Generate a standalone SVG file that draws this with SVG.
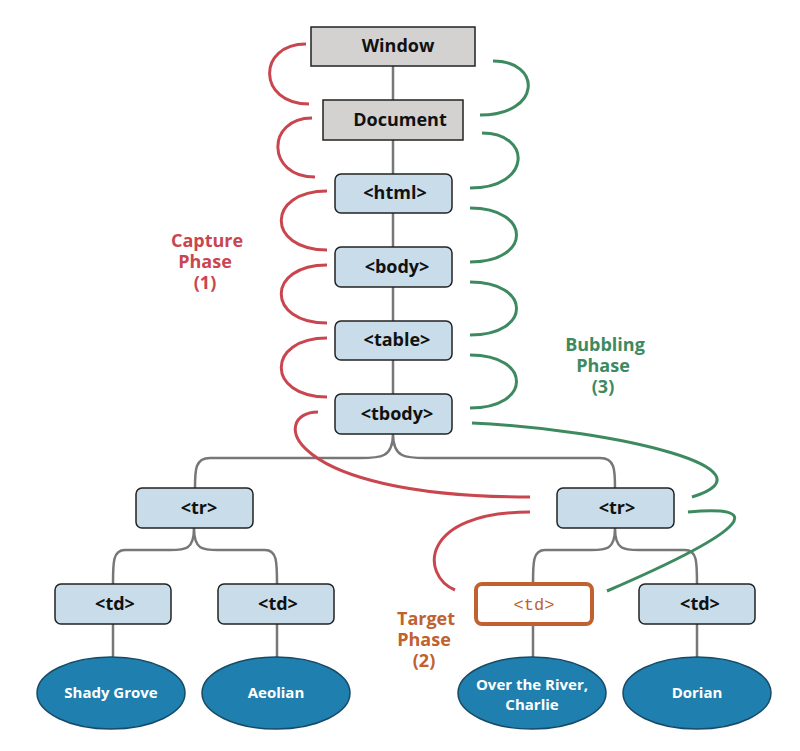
<svg xmlns="http://www.w3.org/2000/svg" width="800" height="751" viewBox="0 0 800 751">
<style>
.g{fill:#d3d2d1;stroke:#222;stroke-width:1.5}
.b{fill:#c9dcea;stroke:#222;stroke-width:1.5}
.t{font-family:"Open Sans",sans-serif;font-weight:bold;font-size:18px;fill:#111;text-anchor:middle}
.e{fill:#1f7fae;stroke:#174a66;stroke-width:1.5}
.et{font-family:"Open Sans",sans-serif;font-weight:bold;font-size:15px;fill:#fff;text-anchor:middle}
.c{fill:none;stroke:#777;stroke-width:2.5}
.r{fill:none;stroke:#c9464f;stroke-width:3}
.gr{fill:none;stroke:#3d8a60;stroke-width:3}
.lab{font-family:"Open Sans",sans-serif;font-weight:bold;font-size:18px;text-anchor:middle}
</style>
<g id="connectors">
<path class="c" d="M393,66V100M393,140V174M393,213V247M393,287V321M393,360V394"/>
<path class="c" d="M393,434C393,458 380,458 360,458H210C195,458 195,470 195,488M393,434C393,458 406,458 426,458H600C615,458 615,470 615,488"/>
<path class="c" d="M194,528C194,550 185,550 170,550H125C113,550 113,562 113,584M194,528C194,550 203,550 218,550H265C277,550 277,562 277,584"/>
<path class="c" d="M615,528C615,550 606,550 591,550H545C533,550 533,562 533,584M615,528C615,550 624,550 639,550H685C697,550 697,562 697,584"/>
<path class="c" d="M113,624V657M277,624V657M533,624V657M697,624V657"/>
<path class="r" d="M306,44C257,44 257,104 309,104M312,118C266,118 266,177 315,177M327,191C266,191 266,250 327,250M327,265C266,265 266,323 327,323M327,338C266,338 266,397 327,397M318,412C270,412 280,497 530,497M530,512C420,512 420,575 455,590"/>
<path class="gr" d="M493,61C542,61 542,115 480,115M482,133C532,133 532,188 470,188M470,208C532,208 532,262 470,262M470,282C532,282 532,335 470,335M470,355C532,355 532,408 470,408M472,423C620,430 780,470 692,497M688,512C760,505 760,525 607,591"/>
</g>
<g id="window"><rect class="g" x="311" y="27" width="164" height="39"/><text class="t" x="398" y="52">Window</text></g>
<g id="document"><rect class="g" x="323" y="100" width="140" height="40"/><text class="t" x="400" y="126">Document</text></g>
<g id="html"><rect class="b" x="335" y="174" width="117" height="39" rx="6"/><text class="t" x="395" y="199">&lt;html&gt;</text></g>
<g id="body"><rect class="b" x="335" y="247" width="117" height="40" rx="6"/><text class="t" x="397" y="273">&lt;body&gt;</text></g>
<g id="table"><rect class="b" x="335" y="321" width="117" height="39" rx="6"/><text class="t" x="397" y="346">&lt;table&gt;</text></g>
<g id="tbody"><rect class="b" x="335" y="394" width="117" height="40" rx="6"/><text class="t" x="397" y="420">&lt;tbody&gt;</text></g>
<g id="tr1"><rect class="b" x="136" y="488" width="117" height="40" rx="6"/><text class="t" x="199" y="514">&lt;tr&gt;</text></g>
<g id="tr2"><rect class="b" x="557" y="488" width="117" height="40" rx="6"/><text class="t" x="617" y="514">&lt;tr&gt;</text></g>
<g id="td1"><rect class="b" x="55" y="584" width="116" height="40" rx="6"/><text class="t" x="115" y="610">&lt;td&gt;</text></g>
<g id="td2"><rect class="b" x="218" y="584" width="116" height="40" rx="6"/><text class="t" x="278" y="610">&lt;td&gt;</text></g>
<g id="td3"><rect x="476" y="584" width="116" height="40" rx="6" fill="#fff" stroke="#c0612f" stroke-width="4"/><text x="534" y="610" font-family="'Liberation Mono',monospace" font-size="17" fill="#c0612f" text-anchor="middle">&lt;td&gt;</text></g>
<g id="td4"><rect class="b" x="639" y="584" width="116" height="40" rx="6"/><text class="t" x="700" y="610">&lt;td&gt;</text></g>
<g id="e1"><ellipse class="e" cx="111" cy="693" rx="74" ry="36"/><text class="et" x="111" y="698">Shady Grove</text></g>
<g id="e2"><ellipse class="e" cx="276" cy="693" rx="74" ry="36"/><text class="et" x="276" y="698">Aeolian</text></g>
<g id="e3"><ellipse class="e" cx="532" cy="693" rx="74" ry="36"/><text class="et" x="532" y="690">Over the River,</text><text class="et" x="532" y="710">Charlie</text></g>
<g id="e4"><ellipse class="e" cx="697" cy="693" rx="74" ry="36"/><text class="et" x="697" y="698">Dorian</text></g>
<g id="labels">
<text class="lab" fill="#c9464f"><tspan x="207" y="247">Capture</tspan><tspan x="205" y="268">Phase</tspan><tspan x="205" y="289">(1)</tspan></text>
<text class="lab" fill="#3d8a60"><tspan x="605" y="351">Bubbling</tspan><tspan x="603" y="372">Phase</tspan><tspan x="603" y="393">(3)</tspan></text>
<text class="lab" fill="#c0612f"><tspan x="426" y="625">Target</tspan><tspan x="424" y="646">Phase</tspan><tspan x="424" y="667">(2)</tspan></text>
</g>
</svg>
